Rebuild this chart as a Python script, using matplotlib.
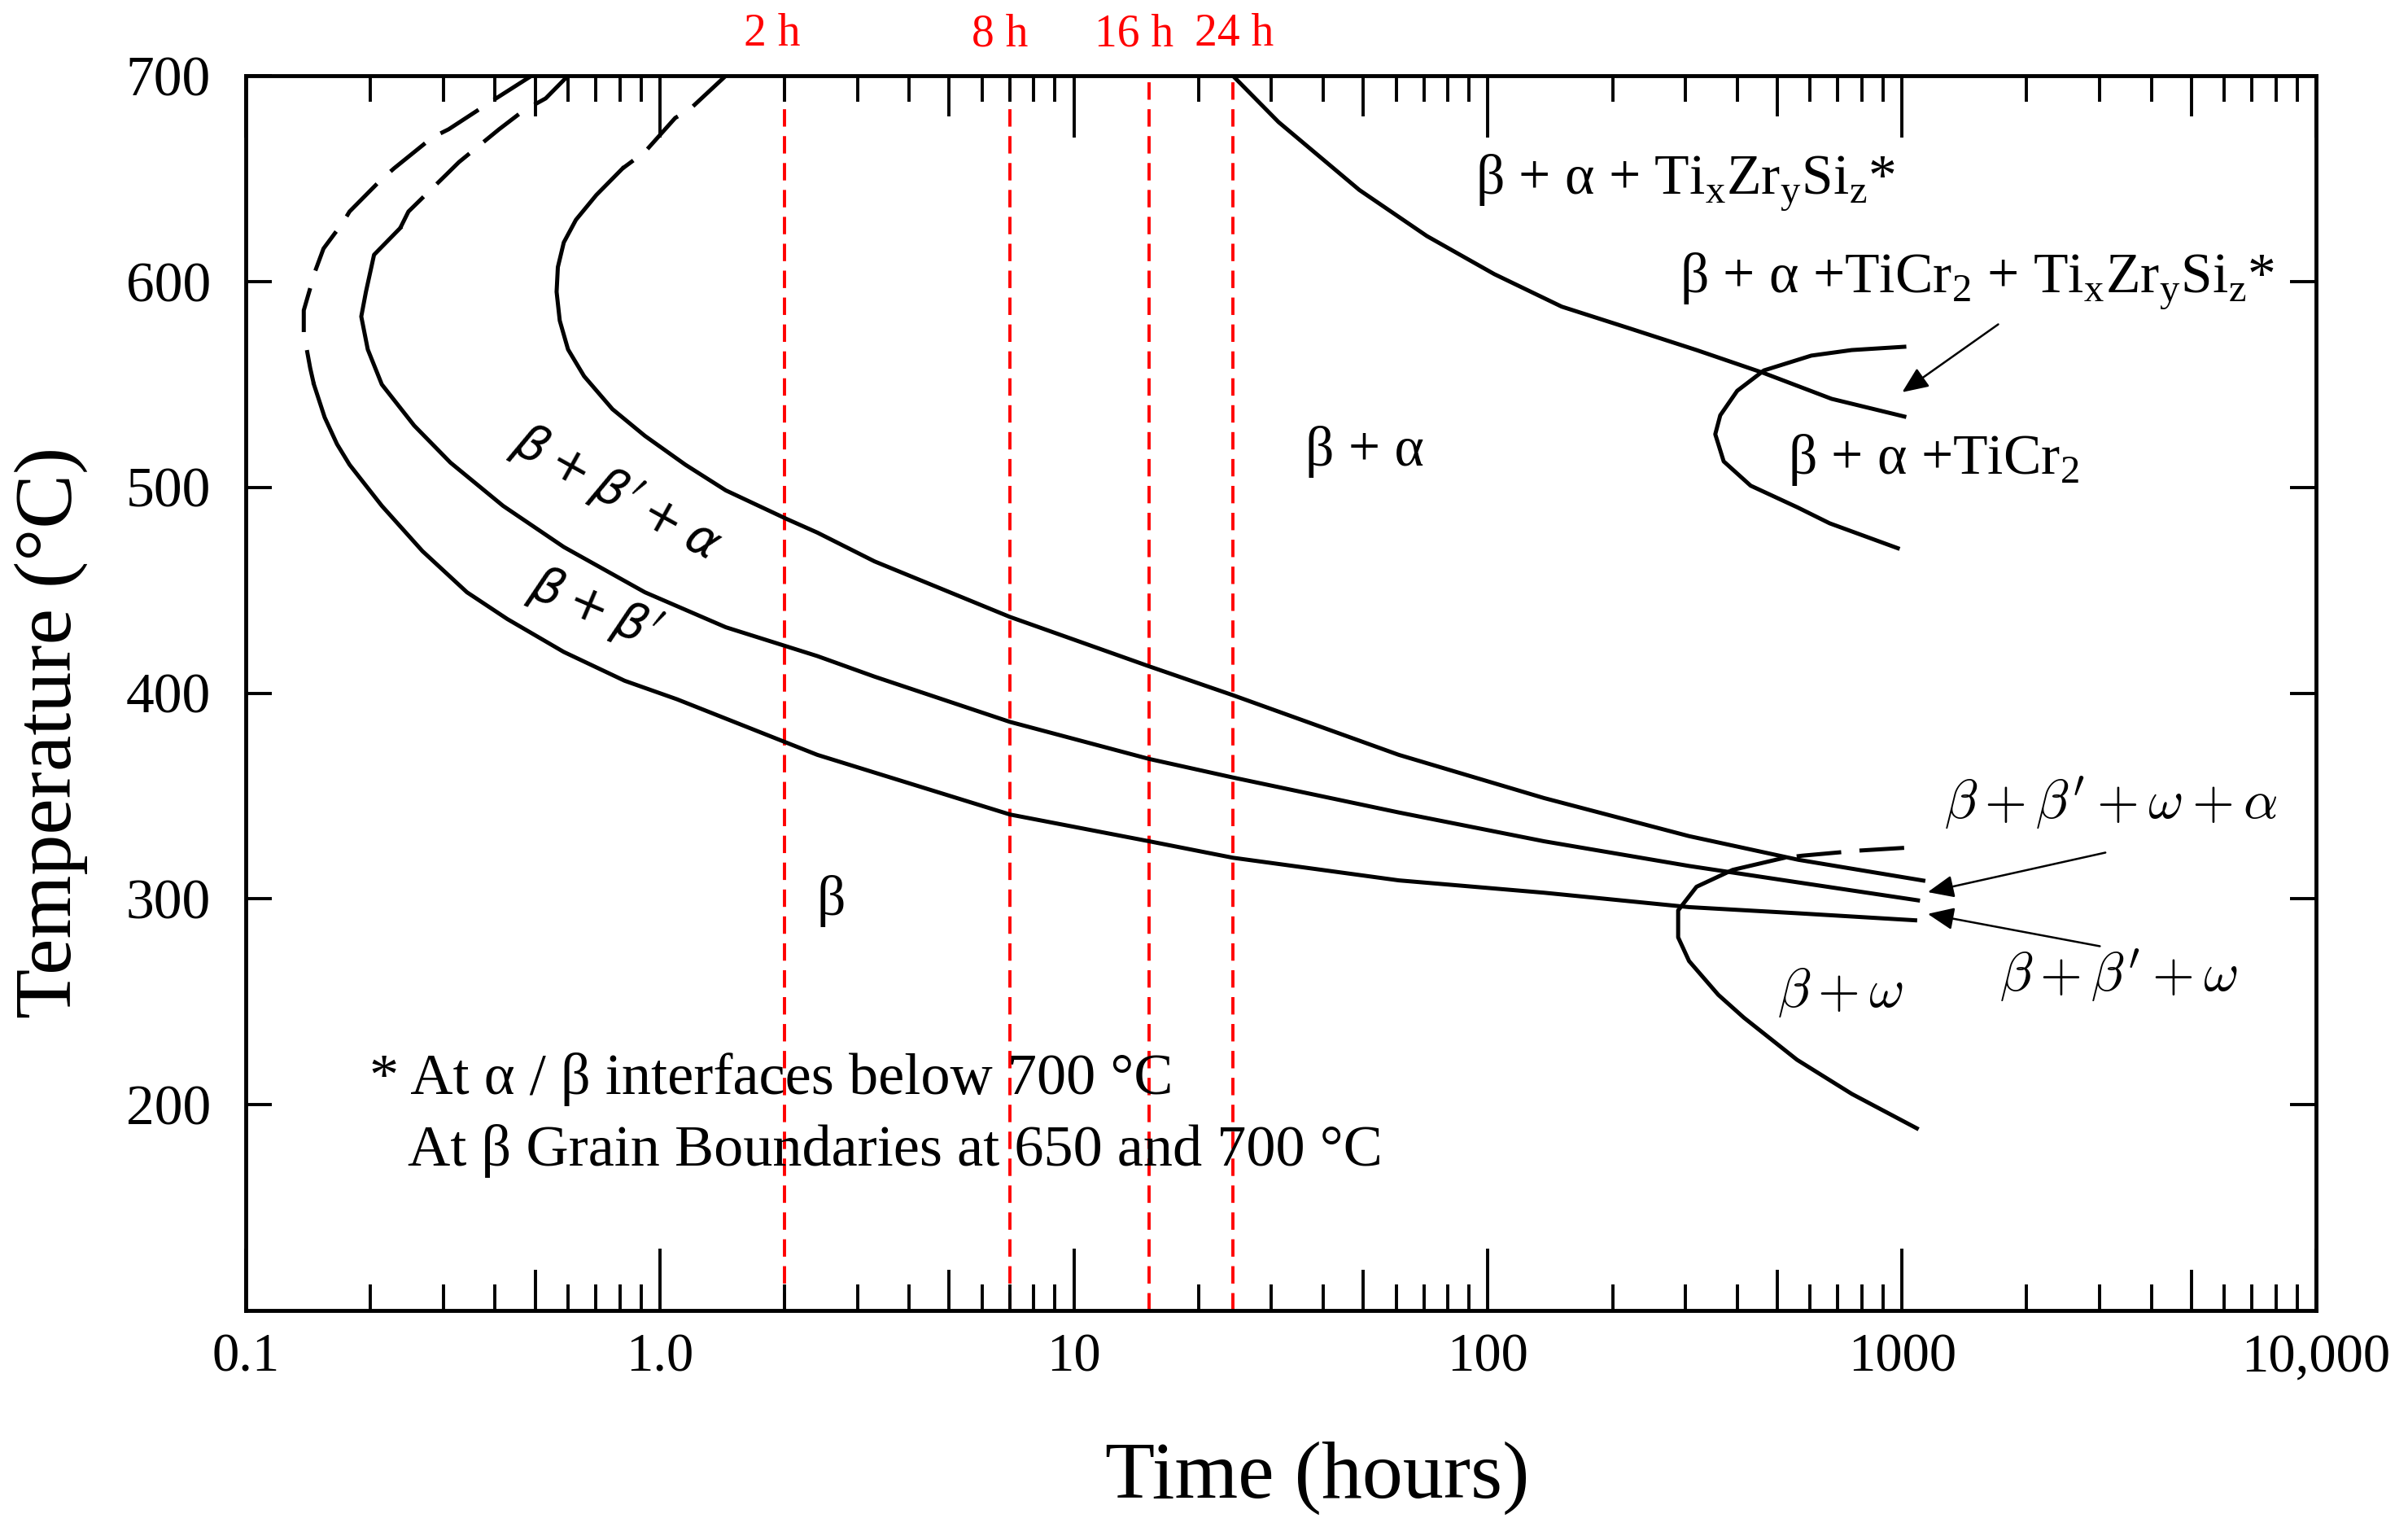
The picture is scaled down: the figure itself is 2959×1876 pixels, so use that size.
import matplotlib
matplotlib.use("Agg")
import matplotlib.pyplot as plt
from matplotlib.ticker import FixedLocator, FixedFormatter, NullLocator, NullFormatter

plt.rcParams['font.family'] = ['Liberation Serif', 'DejaVu Serif']

# ---- data (time in hours, temperature in C) ----
outer_dash_t = [0.490, 0.395, 0.309, 0.282, 0.228, 0.211, 0.178, 0.172, 0.154, 0.147, 0.138, 0.138, 0.143, 0.146]
outer_dash_T = [700, 688, 674, 670, 655, 649, 634, 629, 616, 605, 586, 575, 558, 550]
outer_t = [0.146, 0.155, 0.166, 0.178, 0.213, 0.267, 0.342, 0.428, 0.586, 0.822, 1.10,
           2.40, 7.01, 15.2, 24.2, 60.9, 136.6, 306, 562, 1076]
outer_T = [550, 534, 521, 511, 491, 469, 449, 436, 420, 406, 397,
           370, 341, 328, 320, 309, 303, 296, 293, 289.6]

mid_dash_t = [0.600, 0.530, 0.468, 0.409, 0.327, 0.305, 0.247, 0.236]
mid_dash_T = [700, 689, 683, 674, 658, 652, 634, 626]
mid_t = [0.236, 0.204, 0.195, 0.190, 0.197, 0.213, 0.255, 0.312, 0.418, 0.586, 0.920, 1.443,
         2.40, 3.30, 7.01, 15.2, 24.2, 60.9, 136.6, 306, 562, 1093]
mid_T = [626, 613, 595, 583, 567, 550, 530, 512, 491, 471, 449, 432,
         418, 408, 386, 368, 359, 342, 328, 316, 308, 299.3]

inner_dash_t = [1.443, 1.178, 1.089, 0.920, 0.813]
inner_dash_T = [700, 683.5, 679.5, 663, 655]
inner_t = [0.813, 0.702, 0.627, 0.586, 0.567, 0.563, 0.573, 0.600, 0.656, 0.768, 0.920, 1.152,
           1.443, 2.02, 2.40, 3.30, 7.01, 15.2, 24.2, 60.9, 136.6, 306, 562, 1126]
inner_T = [655, 642, 630, 619, 607, 595, 581, 567, 554, 538, 525, 511,
           498.5, 484.7, 478, 464, 437, 413, 399, 370, 349, 330.5, 319, 308.9]

silicide_t = [24.2, 31.2, 48.9, 71.2, 103.6, 150.7, 219.3, 319, 464, 676, 1013]
silicide_T = [700, 677.5, 644.5, 622.1, 603.6, 587.8, 577.3, 566.7, 555.5, 543, 534.4]

ticr2_t = [1013, 756, 604, 464, 400, 364, 354, 371, 431, 560, 669, 977]
ticr2_T = [568.3, 566.7, 564, 556.8, 546.9, 535, 525.8, 512.6, 500.8, 490.2, 482.5, 470.4]

omega_dash_t = [1012, 791, 574, 518]
omega_dash_T = [324.8, 323.5, 321, 319.9]
omega_t = [518, 390, 319, 288, 288, 306, 360, 415, 558, 757, 1086]
omega_T = [319.9, 314.1, 305.9, 294.4, 281.3, 269.8, 253.4, 242.3, 221.8, 205.2, 188.5]

hour_marks = [2.0, 7.0, 15.2, 24.2]
hour_labels = ['2 h', '8 h', '16 h', '24 h']
hour_label_t = [1.87, 6.63, 14.0, 24.4]

x_ticks = [0.1, 1, 10, 100, 1000, 10000]
x_labels = ['0.1', '1.0', '10', '100', '1000', '10,000']
x_mid_ticks = [0.5, 5, 50, 500, 5000]
y_ticks = [200, 300, 400, 500, 600, 700]

# Times-style phase labels (left/baseline anchored)
serif_text = ['β + α + Ti$_{\\mathregular{x}}$Zr$_{\\mathregular{y}}$Si$_{\\mathregular{z}}$*',
              'β + α +TiCr$_{\\mathregular{2}}$ + Ti$_{\\mathregular{x}}$Zr$_{\\mathregular{y}}$Si$_{\\mathregular{z}}$*',
              'β + α +TiCr$_{\\mathregular{2}}$',
              'β + α',
              'β']
serif_t = [93.2, 290.5, 530, 36.2, 2.386]
serif_T = [642.9, 595, 506.7, 510.6, 292.4]

# computer-modern labels
cm_text = [r"$\beta+\beta'+\omega+\alpha$", r"$\beta+\beta'+\omega$", r"$\beta+\omega$"]
cm_t = [1265, 1723, 501]
cm_T = [338.7, 255, 247.5]

# slanted italic labels (centre anchored)
slant_text = [r"$\beta+\beta'+\alpha$", r"$\beta+\beta'$"]
slant_t = [0.786, 0.694]
slant_T = [496.5, 440.4]
slant_rot = [-29, -23]

arrow_tail_t = [1708, 3100, 3006]
arrow_tail_T = [579.2, 322.5, 277]
arrow_head_t = [1001, 1154, 1154]
arrow_head_T = [546.2, 303.3, 292.7]

note_lines = ['* At α / β interfaces below 700 °C', 'At β Grain Boundaries at 650 and 700 °C']
note_t = [0.199, 0.2465]
note_T = [205.4, 170.4]

# ---- figure ----
fig = plt.figure(figsize=(29.59, 18.76), dpi=100)
ax = fig.add_axes([0.1021, 0.1418, 0.8597, 0.8086])

dash = (0, (11, 4.5))
lw = 3.6
for h in hour_marks:
    ax.axvline(h, color='red', lw=2.8, ls=(0, (5.5, 3)), zorder=1.5)

ax.plot(outer_dash_t, outer_dash_T, color='k', lw=lw, ls=dash)
ax.plot(outer_t, outer_T, color='k', lw=lw)
ax.plot(mid_dash_t, mid_dash_T, color='k', lw=lw, ls=dash)
ax.plot(mid_t, mid_T, color='k', lw=lw)
ax.plot(inner_dash_t, inner_dash_T, color='k', lw=lw, ls=dash)
ax.plot(inner_t, inner_T, color='k', lw=lw)
ax.plot(silicide_t, silicide_T, color='k', lw=lw)
ax.plot(ticr2_t, ticr2_T, color='k', lw=lw)
ax.plot(omega_dash_t, omega_dash_T, color='k', lw=lw, ls=dash)
ax.plot(omega_t, omega_T, color='k', lw=lw)

for t, lab in zip(hour_label_t, hour_labels):
    ax.text(t, 1.0244, lab, transform=ax.get_xaxis_transform(), ha='center',
            va='baseline', color='red', fontsize=40)

for s, t, T in zip(serif_text, serif_t, serif_T):
    ax.text(t, T, s, fontsize=50, ha='left', va='baseline')
for s, t, T in zip(cm_text, cm_t, cm_T):
    ax.text(t, T, s, fontsize=48, ha='left', va='baseline', math_fontfamily='cm')
for s, t, T, r in zip(slant_text, slant_t, slant_T, slant_rot):
    ax.text(t, T, s, fontsize=43, ha='center', va='center', rotation=r,
            rotation_mode='anchor', math_fontfamily='dejavusans')
for s, t, T in zip(note_lines, note_t, note_T):
    ax.text(t, T, s, fontsize=52, ha='left', va='baseline')

for xt, yt, xh, yh in zip(arrow_tail_t, arrow_tail_T, arrow_head_t, arrow_head_T):
    ax.annotate('', xy=(xh, yh), xytext=(xt, yt),
                arrowprops=dict(arrowstyle='-|>,head_length=0.7,head_width=0.3',
                                color='k', lw=1.8, mutation_scale=28,
                                shrinkA=0, shrinkB=0))

ax.set_xscale('log')
ax.set_xlim(0.1, 10000)
ax.set_ylim(100, 700)

# medium ticks at 5x on a twin axis
ax5 = ax.twiny()
ax5.set_xscale('log')
ax5.set_xlim(0.1, 10000)
ax5.xaxis.set_major_locator(FixedLocator(x_mid_ticks))
ax5.xaxis.set_minor_locator(NullLocator())
ax5.tick_params(axis='x', which='major', direction='in', length=36, width=2.8,
                top=True, bottom=True, labeltop=False, labelbottom=False)
for sp in ax5.spines.values():
    sp.set_visible(False)

minor = [d * s for d in [0.1, 1, 10, 100, 1000] for s in (2, 3, 4, 6, 7, 8, 9)]
ax.xaxis.set_major_locator(FixedLocator(x_ticks))
ax.xaxis.set_major_formatter(FixedFormatter(x_labels))
ax.xaxis.set_minor_locator(FixedLocator(minor))
ax.xaxis.set_minor_formatter(NullFormatter())
ax.yaxis.set_major_locator(FixedLocator(y_ticks))
ax.yaxis.set_minor_locator(NullLocator())

ax.tick_params(axis='x', which='major', direction='in', length=55, width=2.8,
               top=True, bottom=True, labelsize=48, pad=20)
ax.tick_params(axis='x', which='minor', direction='in', length=23, width=2.8,
               top=True, bottom=True)
ax.tick_params(axis='y', which='major', direction='in', length=23, width=2.8,
               left=True, right=True, labelsize=50, pad=31)
for sp in ax.spines.values():
    sp.set_linewidth(3.5)

ax.set_xlabel('Time (hours)', fontsize=72)
ax.xaxis.set_label_coords(0.5177, -0.106)
ax.set_ylabel('Temperature (°C)', fontsize=72)
ax.yaxis.set_label_coords(-0.0763, 0.468)

fig.savefig('out.png', dpi=100)
